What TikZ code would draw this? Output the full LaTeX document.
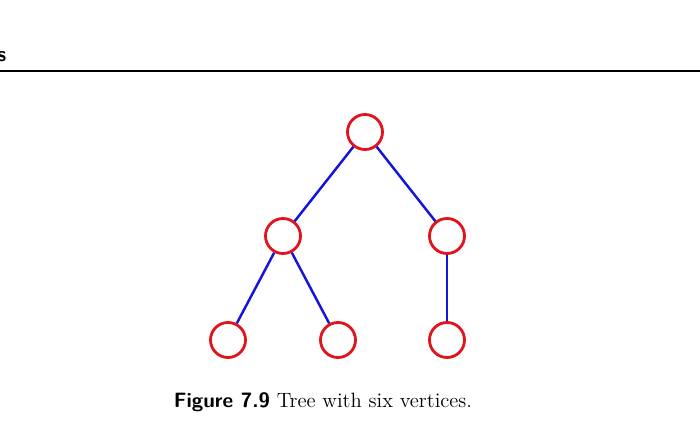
\documentclass[tikz,border=0pt]{standalone}
\begin{document}
\begin{tikzpicture}[x=0.02cm,y=-0.02cm,
  vert/.style={circle,draw={rgb,255:red,225;green,20;blue,30},line width=1.6pt,minimum size=0.7cm,inner sep=0pt,fill=white},
  edge/.style={draw={rgb,255:red,20;green,20;blue,220},line width=1.4pt}]
\useasboundingbox (0,0) rectangle (700,445);
\node[anchor=south west,inner sep=0pt,font=\sffamily\bfseries\fontsize{12}{14}\selectfont] (hdr) at (-3,62) {s};
\draw[line width=0.6pt] (0,71) coordinate (l1) -- (700,71) coordinate (l2);
\node[vert] (r) at (365,132) {};
\node[vert] (a) at (283,236) {};
\node[vert] (b) at (447,236) {};
\node[vert] (c) at (228,340) {};
\node[vert] (d) at (338,340) {};
\node[vert] (e) at (447,340) {};
\draw[edge] (r) -- (a);
\draw[edge] (r) -- (b);
\draw[edge] (a) -- (c);
\draw[edge] (a) -- (d);
\draw[edge] (b) -- (e);
\node[font=\fontsize{11.8}{14}\selectfont] (cap) at (323,402) {{\sffamily\bfseries Figure 7.9} Tree with six vertices.};
\end{tikzpicture}
\end{document}
